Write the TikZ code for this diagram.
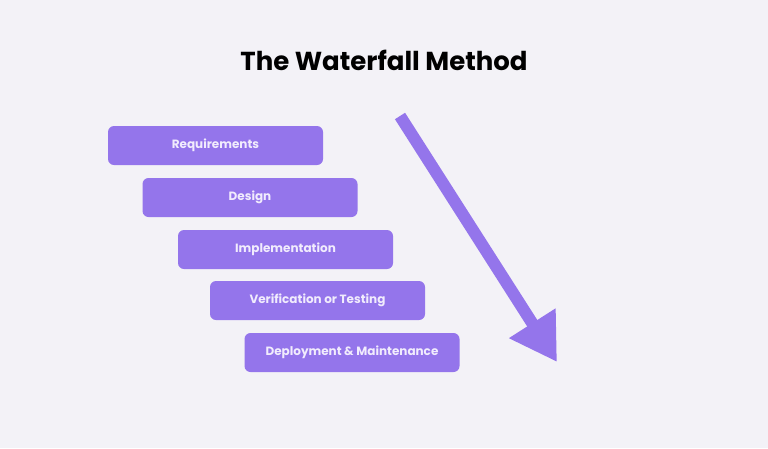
\documentclass[tikz,border=0pt]{standalone}
\usepackage{fontspec}
\setmainfont{Poppins}
\usetikzlibrary{positioning,arrows.meta}
\definecolor{bgcol}{HTML}{F3F2F7}
\definecolor{stepcol}{HTML}{9475EB}
\definecolor{textcol}{HTML}{F1ECFD}
\tikzset{
  phase/.style={rectangle, rounded corners=6pt, fill=stepcol, minimum width=215pt, minimum height=39pt,
               text=textcol, font=\fontsize{12}{14}\selectfont\bfseries},
  flow/.style={-{Triangle[length=46pt,width=52pt]}, line width=12pt, stepcol},
}
\begin{document}
\begin{tikzpicture}[x=1pt,y=-1pt]
\fill[bgcol] (0,0) rectangle (768,448);
\useasboundingbox (0,0) rectangle (768,448);
%Title
\node[font=\fontsize{26}{30}\selectfont\bfseries] (title) at (384,60) {The Waterfall Method};
%Phases
\node[phase] (req) at (215.5,145.5) {Requirements};
\node[phase] (design) at (250,197.5) {Design};
\node[phase] (impl) at (285.5,249.5) {Implementation};
\node[phase] (verif) at (317.5,300.5) {Verification or Testing};
\node[phase] (deploy) at (352,352.5) {Deployment \& Maintenance};
%Arrow
\coordinate (start) at (400,116);
\coordinate (stop) at (557,362);
\draw[flow] (start) -- (stop);
\end{tikzpicture}
\end{document}
